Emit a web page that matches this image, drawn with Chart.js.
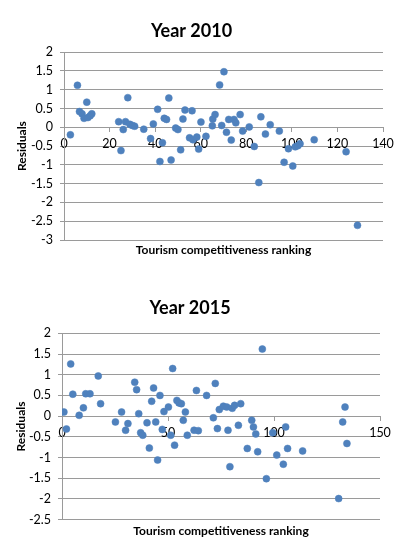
<!DOCTYPE html>
<html lang="en">
<head>
    <meta charset="UTF-8">
    <title>Residuals vs tourism competitiveness ranking</title>
    <script src="https://cdn.jsdelivr.net/npm/chart.js"></script>
    <style>
        body {
            margin: 0;
            background: #fff;
        }
        .box {
            width: 413px;
        }
        canvas {
            display: block;
        }
    </style>
</head>
<body>

<div class="box"><canvas id="chart2010" width="413" height="280"></canvas></div>
<div class="box"><canvas id="chart2015" width="413" height="270"></canvas></div>

<script>
    // Year 2010: ranking (x) and residual (y)
    const rank2010 = [2.8, 5.9, 6.8, 7.9, 8.8, 10.0, 10.5, 11.5, 12.2, 24, 25, 26, 27, 28, 28.9, 30, 31,
        35, 38, 39.2, 41.1, 42.1, 43.2, 44, 45, 46, 47, 49, 50, 51.2, 52.2, 53.1, 55.1, 56.2, 56.6,
        58.3, 59.1, 60.1, 62.3, 65.1, 65.3, 66.3, 68.3, 69.2, 70.2, 71.3, 72.3, 73.4, 74.6, 75.4,
        77.3, 78.4, 81.3, 83.5, 85.5, 86.4, 88.4, 90.5, 94.5, 96.6, 98.5, 100.4, 101.5, 102.6,
        103.6, 109.8, 123.8, 128.8];
    const resid2010 = [-0.20, 1.12, 0.42, 0.36, 0.24, 0.67, 0.26, 0.31, 0.36, 0.15, -0.62, -0.06, 0.15, 0.79, 0.08, 0.05, 0.03,
        -0.05, -0.30, 0.09, 0.48, -0.91, -0.41, 0.24, 0.21, 0.78, -0.87, -0.02, -0.06, -0.60, 0.22, 0.46, -0.28, 0.44, -0.33,
        -0.26, -0.58, 0.14, -0.24, 0.04, 0.22, 0.34, 1.13, 0.05, 1.48, -0.13, 0.21, -0.34, 0.21, 0.12,
        0.34, -0.10, 0.01, -0.51, -1.47, 0.28, -0.18, 0.07, -0.10, -0.93, -0.57, -1.03, -0.52, -0.49,
        -0.44, -0.33, -0.65, -2.61];

    // Year 2015
    const rank2015 = [0.9, 2.1, 4.1, 5.1, 8.1, 10.1, 11.2, 13.2, 17.1, 18.2, 25.2, 28.1, 30.0, 31.1,
        34.3, 35.2, 36.2, 37.1, 38.1, 40.1, 41.2, 42.3, 43.2, 44.2, 45.1, 46.2, 47.3, 48.1, 50.2,
        51.3, 52.2, 53.1, 54.2, 55.2, 56.3, 57.2, 58.2, 59.1, 62.3, 63.4, 64.3, 68.2, 71.4, 72.3,
        73.3, 74.2, 76.1, 77.7, 78.3, 79.2, 80.3, 81.4, 83.2, 84.3, 87.4, 89.5, 90.3, 91.4, 92.3,
        94.5, 96.4, 99.4, 101.3, 104.4, 105.5, 106.4, 113.5, 130.5, 132.4, 133.5, 134.4];
    const resid2015 = [0.10, -0.31, 1.26, 0.53, 0.02, 0.20, 0.54, 0.54, 0.97, 0.30, -0.14, 0.10, -0.34, -0.18,
        0.82, 0.64, 0.06, -0.40, -0.46, -0.16, -0.77, 0.36, 0.68, -0.14, -1.06, 0.50, -0.32, 0.11, 0.22,
        -0.46, 1.15, -0.70, 0.38, 0.32, 0.30, -0.10, 0.10, -0.46, -0.34, 0.62, -0.35, 0.50, -0.04, 0.79,
        -0.30, 0.16, 0.24, 0.22, -0.34, -1.22, 0.19, 0.26, -0.22, 0.30, -0.78, -0.10, -0.26, -0.43, -0.86,
        1.62, -1.51, -0.40, -0.94, -1.16, -0.26, -0.78, -0.84, -1.99, -0.14, 0.22, -0.66];

    const xTitle = 'Tourism competitiveness ranking';
    const yTitle = 'Residuals';

    const FONT = 'Lato, "Open Sans", sans-serif';
    const GRID = '#9a9a9a';
    const DOT = '#4F81BD';

    function makeChart(id, title, xs, ys, xMax, xStep, yMin, yMax, box) {
        const points = xs.map((x, i) => ({ x: x, y: ys[i] }));

        return new Chart(document.getElementById(id), {
            type: 'scatter',
            data: {
                datasets: [{
                    data: points,
                    backgroundColor: DOT,
                    borderColor: DOT,
                    borderWidth: 0.5,
                    pointRadius: 3.5,
                    pointHoverRadius: 3.5
                }]
            },
            options: {
                responsive: false,
                animation: false,
                events: [],
                layout: {
                    padding: { left: 0, right: box.right, top: 0, bottom: box.bottom }
                },
                plugins: {
                    legend: { display: false },
                    tooltip: { enabled: false },
                    title: {
                        display: true,
                        text: title,
                        color: '#000',
                        font: { family: FONT, size: 18, weight: 'bold' },
                        padding: { top: box.titleTop, bottom: box.titleBottom }
                    }
                },
                scales: {
                    // axis line crossing at y = 0, labels just under it
                    x: {
                        type: 'linear',
                        position: { y: 0 },
                        min: 0,
                        max: xMax,
                        ticks: {
                            stepSize: xStep,
                            color: '#000',
                            padding: 5,
                            font: { family: FONT, size: 12.5 }
                        },
                        grid: {
                            drawOnChartArea: false,
                            drawTicks: true,
                            tickLength: 4,
                            color: GRID
                        },
                        border: { display: true, color: GRID }
                    },
                    // only carries the axis title at the bottom of the plot
                    xTitle: {
                        type: 'linear',
                        position: 'bottom',
                        min: 0,
                        max: xMax,
                        ticks: { display: false },
                        grid: { display: false, drawTicks: false },
                        border: { display: false },
                        title: {
                            display: true,
                            text: xTitle,
                            color: '#000',
                            font: { family: FONT, size: 12, weight: 'bold' },
                            padding: { top: box.xTitlePad, bottom: 3 }
                        }
                    },
                    y: {
                        type: 'linear',
                        position: 'left',
                        min: yMin,
                        max: yMax,
                        ticks: {
                            stepSize: 0.5,
                            color: '#000',
                            padding: 7,
                            font: { family: FONT, size: 12.5 },
                            // Excel style: 2, 1.5, 1, 0.5 ...
                            callback: function(value) {
                                return String(value);
                            }
                        },
                        grid: {
                            color: GRID,
                            tickLength: 4
                        },
                        border: { display: true, color: GRID },
                        title: {
                            display: true,
                            text: yTitle,
                            color: '#000',
                            font: { family: FONT, size: 12, weight: 'bold' },
                            padding: { top: box.yTitlePad, bottom: 0 }
                        },
                        afterFit: function(scale) {
                            scale.width = box.left;
                        }
                    }
                }
            }
        });
    }

    makeChart('chart2010', 'Year 2010', rank2010, resid2010, 140, 20, -3, 2,
        { left: 64, right: 30, bottom: 19.6, titleTop: 20.8, titleBottom: 9.8, xTitlePad: 3, yTitlePad: 14.8 });

    makeChart('chart2015', 'Year 2015', rank2015, resid2015, 150, 50, -2.5, 2,
        { left: 62, right: 33, bottom: 8.9, titleTop: 17.2, titleBottom: 14.5, xTitlePad: 4, yTitlePad: 13.5 });
</script>

</body>
</html>
